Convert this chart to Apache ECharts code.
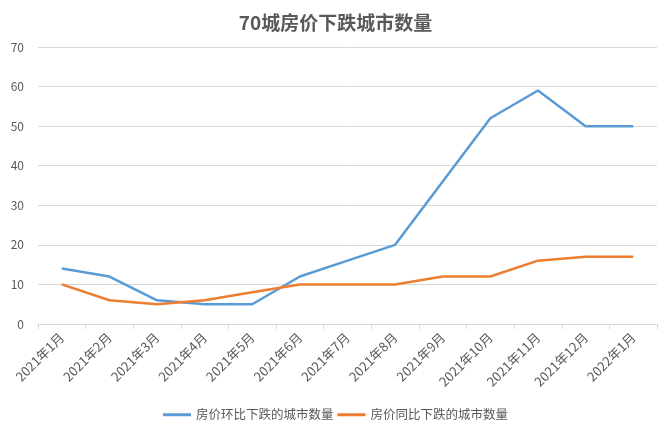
<!DOCTYPE html>
<html>
<head>
<meta charset="utf-8">
<script src="https://cdn.jsdelivr.net/npm/echarts@6/dist/echarts.min.js"></script>
<style>
  html, body { margin: 0; padding: 0; background: #fff; }
  #chart { width: 671px; height: 435px; }
</style>
</head>
<body>
<div id="chart"></div>
<script>
const months = ['2021年1月', '2021年2月', '2021年3月', '2021年4月', '2021年5月', '2021年6月', '2021年7月',
  '2021年8月', '2021年9月', '2021年10月', '2021年11月', '2021年12月', '2022年1月']
const momDown = [14, 12, 6, 5, 5, 12, 16, 20, 36, 52, 59, 50, 50]
const yoyDown = [10, 6, 5, 6, 8, 10, 10, 10, 12, 12, 16, 17, 17]

const font = '"Noto Sans CJK SC", "Noto Sans", sans-serif'
const chart = echarts.init(document.getElementById('chart'))

chart.setOption({
  animation: false,
  textStyle: { fontFamily: font },
  title: {
    text: '70城房价下跌城市数量',
    left: 'center',
    top: 8,
    textStyle: { fontSize: 19, fontWeight: 'bold', color: '#595959', fontFamily: font },
  },
  legend: {
    bottom: 9,
    left: 'center',
    itemWidth: 28,
    itemHeight: 3,
    itemGap: 4,
    icon: 'rect',
    textStyle: { fontSize: 12.5, color: '#595959' },
    data: ['房价环比下跌的城市数量', '房价同比下跌的城市数量'],
  },
  grid: { left: 38, right: 14, top: 47, bottom: 111 },
  xAxis: {
    type: 'category',
    data: months,
    boundaryGap: true,
    axisLine: { lineStyle: { color: '#d9d9d9' } },
    axisTick: { show: true, alignWithLabel: false, lineStyle: { color: '#d9d9d9' } },
    axisLabel: { rotate: 45, color: '#595959', fontSize: 13, interval: 0, margin: 11 },
  },
  yAxis: {
    type: 'value',
    min: 0,
    max: 70,
    interval: 10,
    axisLine: { show: false },
    axisTick: { show: false },
    axisLabel: { color: '#595959', fontSize: 12, margin: 14 },
    splitLine: { lineStyle: { color: '#d9d9d9' } },
  },
  series: [
    {
      name: '房价环比下跌的城市数量',
      type: 'line',
      data: momDown,
      showSymbol: false,
      symbol: 'none',
      lineStyle: { width: 2.5, color: '#5B9BD5' },
      itemStyle: { color: '#5B9BD5' },
    },
    {
      name: '房价同比下跌的城市数量',
      type: 'line',
      data: yoyDown,
      showSymbol: false,
      symbol: 'none',
      lineStyle: { width: 2.5, color: '#ED7D31' },
      itemStyle: { color: '#ED7D31' },
    },
  ],
})
</script>
</body>
</html>
